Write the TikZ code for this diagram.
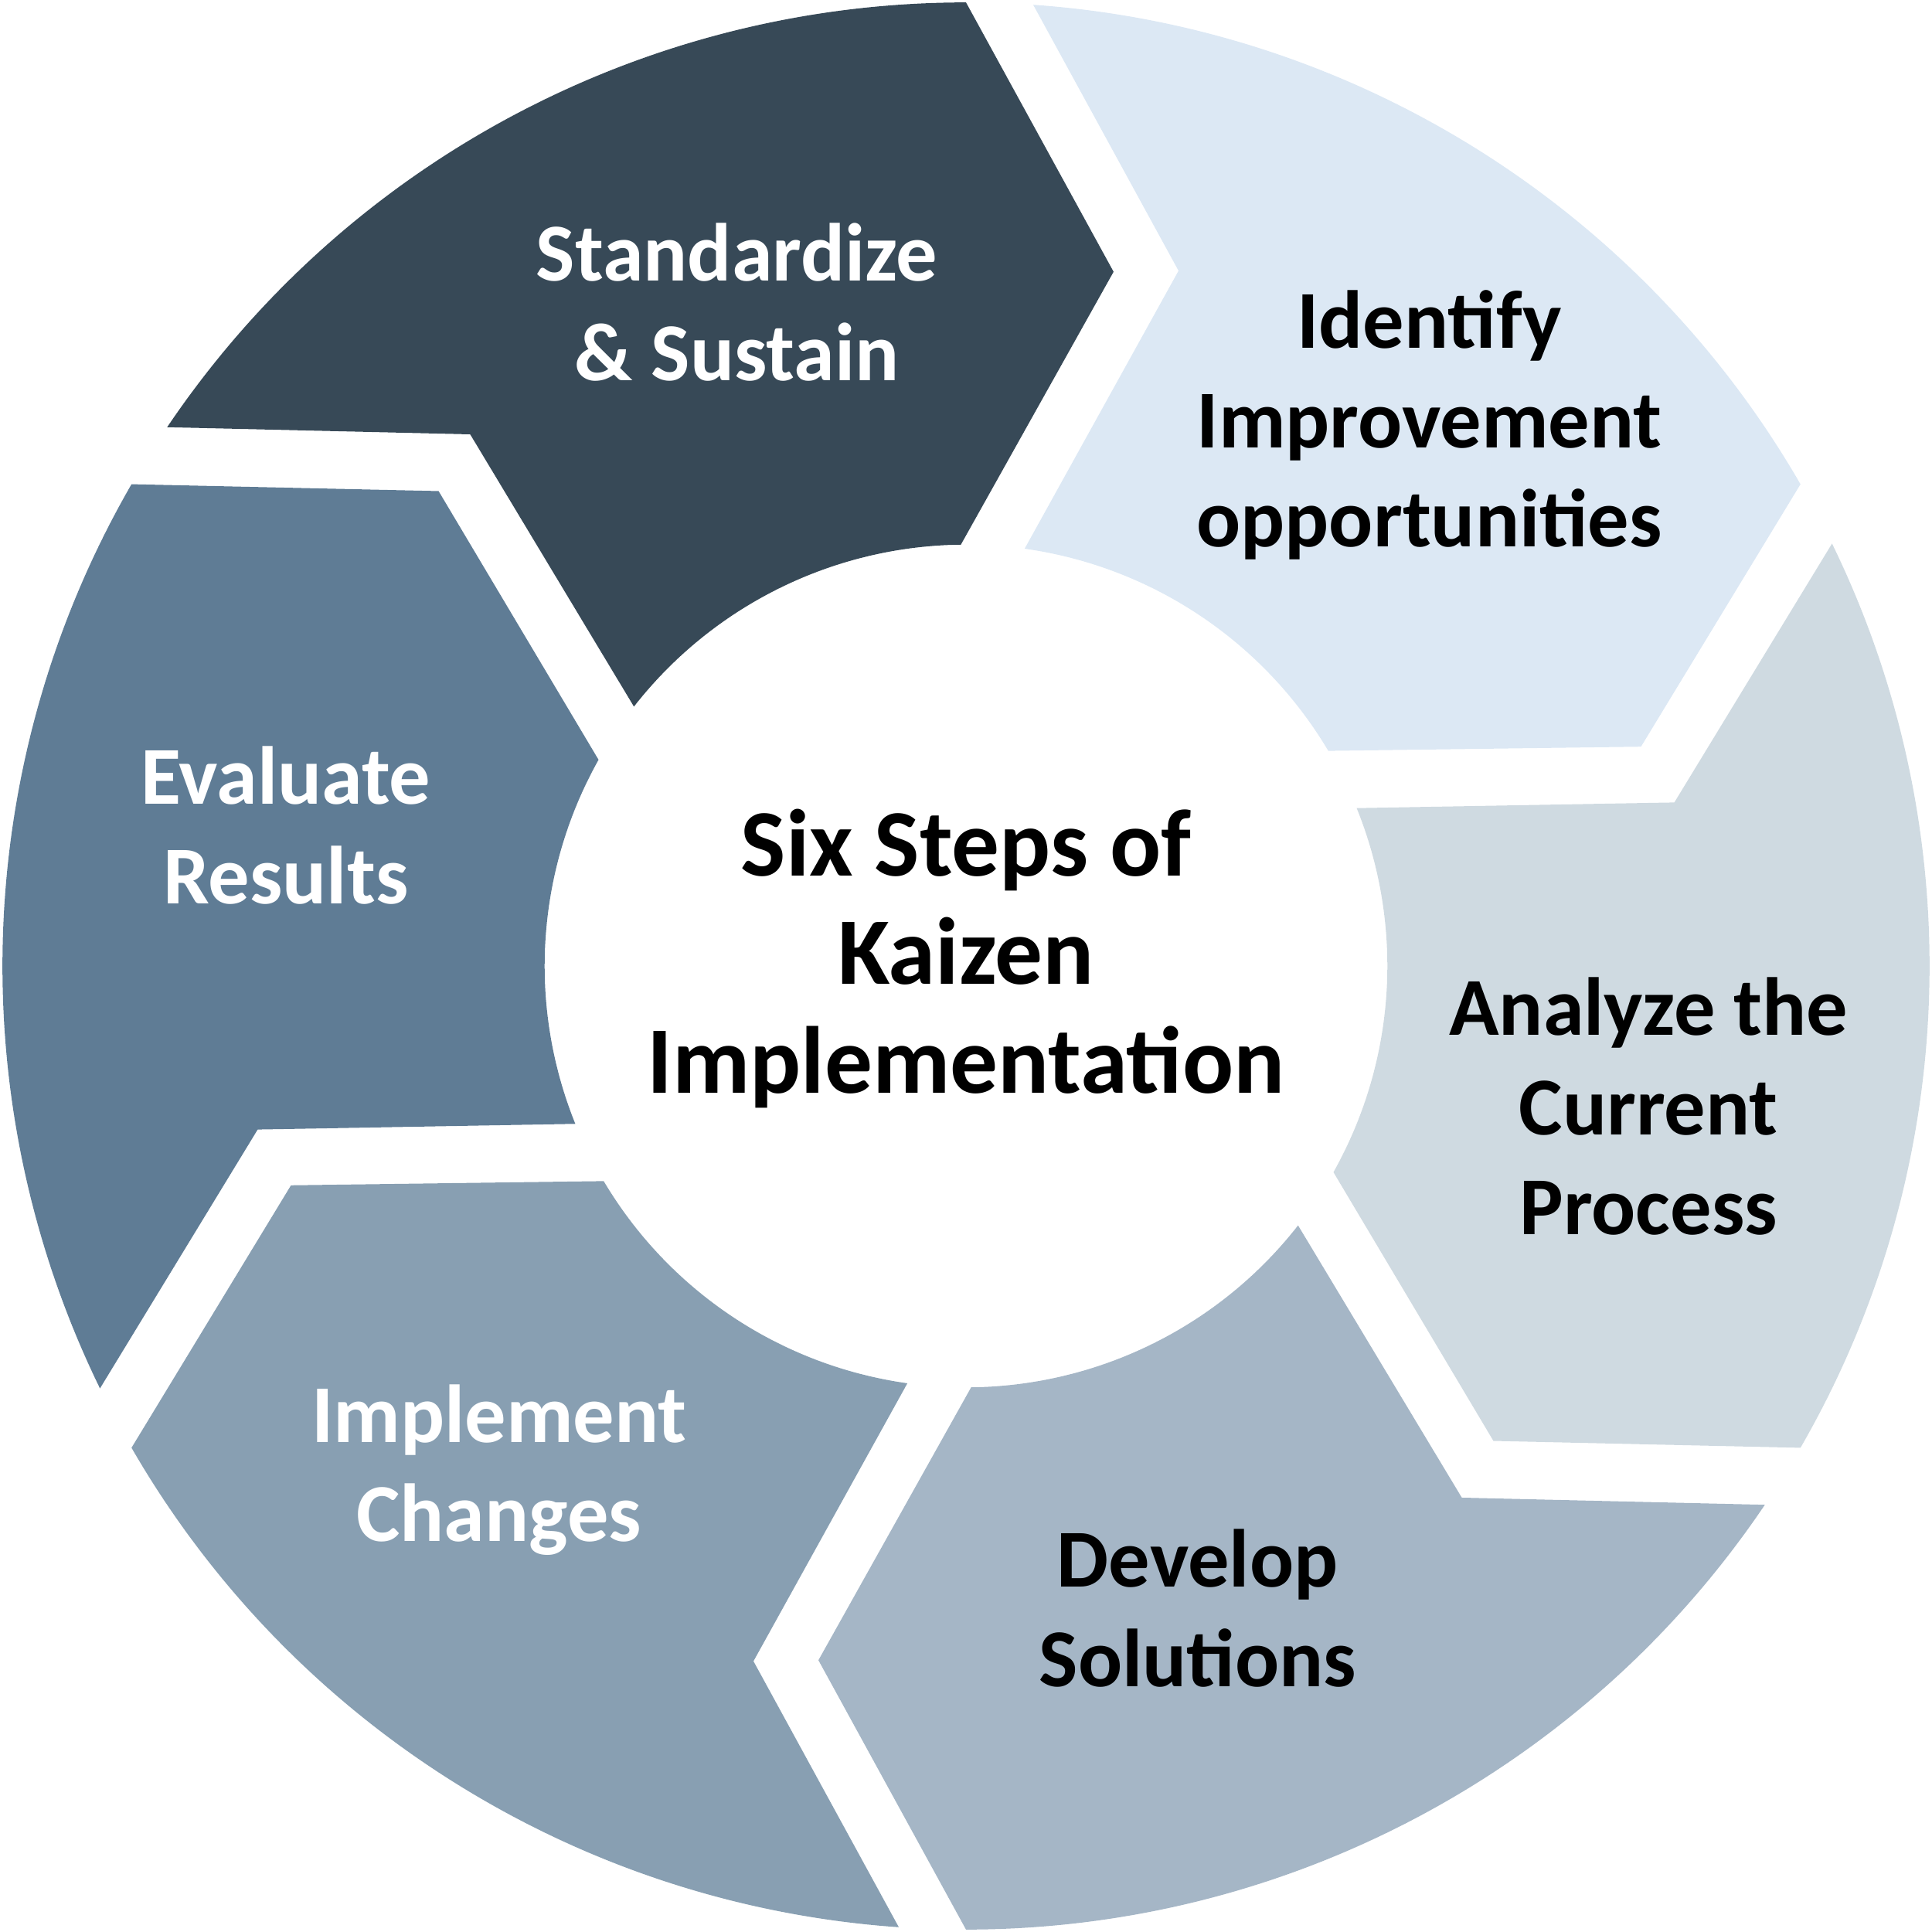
\documentclass[tikz,border=0pt]{standalone}
\usepackage{fontspec}
\setmainfont{Carlito}
\definecolor{cA}{HTML}{374957}
\definecolor{cB}{HTML}{DCE8F4}
\definecolor{cC}{HTML}{CFDAE1}
\definecolor{cD}{HTML}{A5B6C6}
\definecolor{cE}{HTML}{889FB2}
\definecolor{cF}{HTML}{5F7C95}
\tikzset{lbl/.style={align=center,font=\fontsize{19}{23}\selectfont\bfseries},
 ctr/.style={align=center,font=\fontsize{22}{25}\selectfont\bfseries}}
\begin{document}
\begin{tikzpicture}
\useasboundingbox (-7.84,-7.84) rectangle (7.84,7.84);
\foreach \a/\c in {90/cA,30/cB,-30/cC,-90/cD,-150/cE,150/cF}{
 \fill[\c] (\a+56:7.82) arc[start angle=\a+56, end angle=\a, radius=7.82]
   -- (\a-12:5.76) -- (\a+0.7:3.42) arc[start angle=\a+0.7, end angle=\a+52, radius=3.42]
   -- (\a+43:5.9) -- cycle;
}
\node[lbl,text=white] (std) at (-1.86,5.39) {Standardize\\\& Sustain};
\node[lbl] (idf) at (3.76,4.39) {Identify\\Improvement\\opportunities};
\node[lbl] (ana) at (5.54,-1.14) {Analyze the\\Current\\Process};
\node[lbl] (dev) at (1.88,-5.21) {Develop\\Solutions};
\node[lbl,text=white] (imp) at (-3.79,-4.09) {Implement\\Changes};
\node[lbl,text=white] (eva) at (-5.52,1.14) {Evaluate\\Results};
\node[ctr] (c) at (0,0.06) {Six Steps of\\Kaizen\\Implementation};
\end{tikzpicture}
\end{document}
